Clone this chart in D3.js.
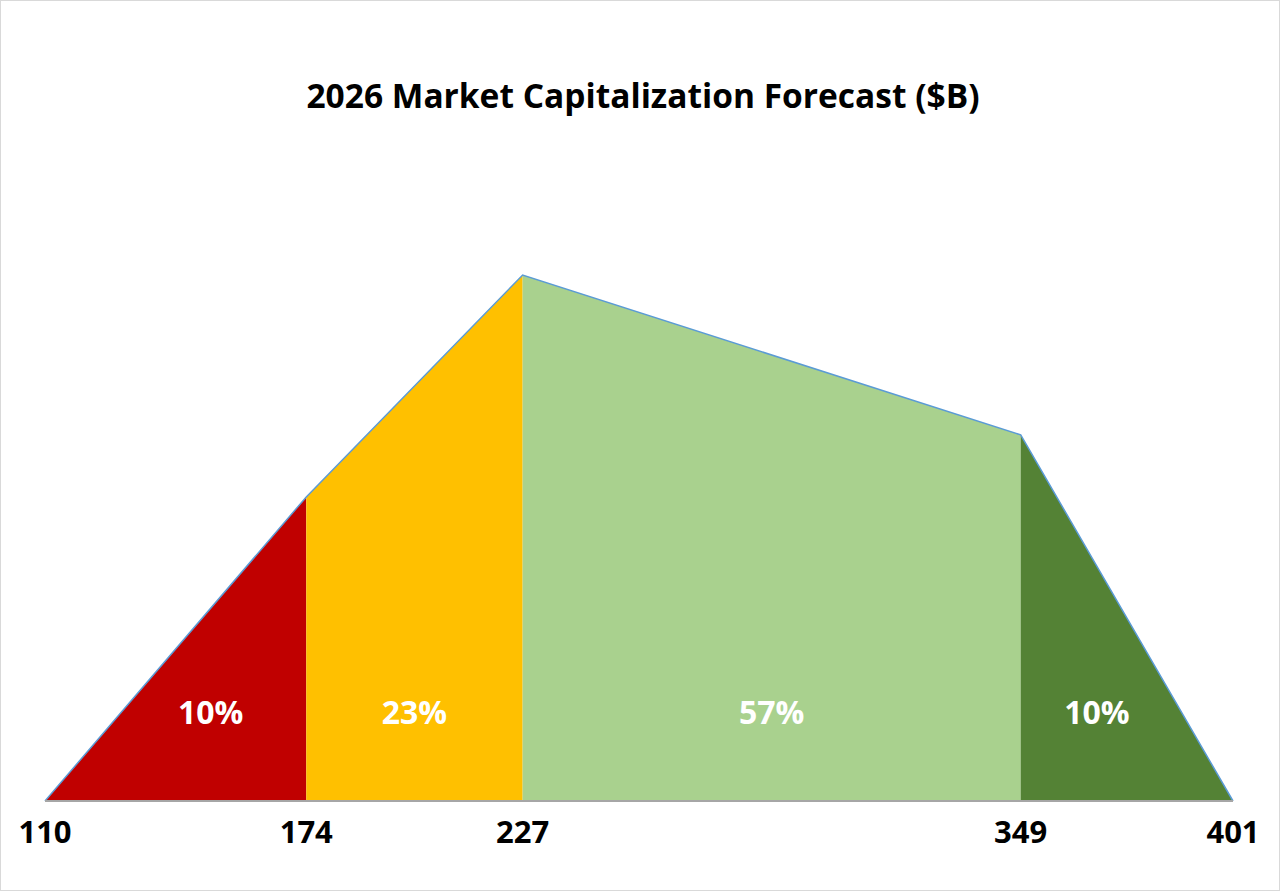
<!DOCTYPE html>
<html><head><meta charset="utf-8">
<script src="https://cdn.jsdelivr.net/npm/d3@7"></script>
<style>body{margin:0;background:#fff}</style></head>
<body><svg id="c" width="1280" height="891"></svg>
<script>
const breakpoints = [110, 174, 227, 349, 401];
const density = [0, 0.578, 1.0, 0.696, 0];
const shares = ["10%", "23%", "57%", "10%"];
const colors = ["#c00000", "#ffc000", "#a9d18e", "#548235"];
const title = "2026 Market Capitalization Forecast ($B)";

const svg = d3.select("#c");
svg.append("rect").attr("x",0.5).attr("y",0.5).attr("width",1279).attr("height",890)
  .attr("fill","#fff").attr("stroke","#d9d9d9");
const x = d3.scaleLinear().domain([110, 401]).range([45, 1233]);
const y = d3.scaleLinear().domain([0, 1]).range([801, 275]);

for (let i = 0; i < 4; i++) {
  const pts = [[breakpoints[i],0],[breakpoints[i],density[i]],[breakpoints[i+1],density[i+1]],[breakpoints[i+1],0]];
  svg.append("path").attr("d", d3.line().x(d=>x(d[0])).y(d=>y(d[1]))(pts) + "Z")
    .attr("fill", colors[i]);
  const mid = (breakpoints[i] + breakpoints[i+1]) / 2;
  const cx = i === 0 ? x(mid) + 35 : (i === 3 ? x(mid) - 30 : x(mid));
  svg.append("text").attr("x", cx).attr("y", 724).attr("text-anchor","middle")
    .attr("fill","#fff").attr("font-family","Open Sans, sans-serif").attr("font-weight","bold")
    .attr("font-size",32).text(shares[i]);
}
svg.append("path").attr("d", d3.line().x((d,i)=>x(breakpoints[i])).y(d=>y(d))(density))
  .attr("fill","none").attr("stroke","#5b9bd5").attr("stroke-width",1.5);
svg.append("line").attr("x1",x(110)).attr("x2",x(401)).attr("y1",y(0)).attr("y2",y(0))
  .attr("stroke","#a6a6a6").attr("stroke-width",2);

breakpoints.forEach(b => {
  svg.append("text").attr("x", x(b)).attr("y", 843).attr("text-anchor","middle")
    .attr("font-family","Open Sans, sans-serif").attr("font-weight","bold").attr("font-size",31)
    .attr("fill","#000").text(b);
});
svg.append("text").attr("x",643).attr("y",108).attr("text-anchor","middle")
  .attr("font-family","Open Sans, sans-serif").attr("font-weight","bold").attr("font-size",33.5)
  .attr("fill","#000").text(title);
</script></body></html>
